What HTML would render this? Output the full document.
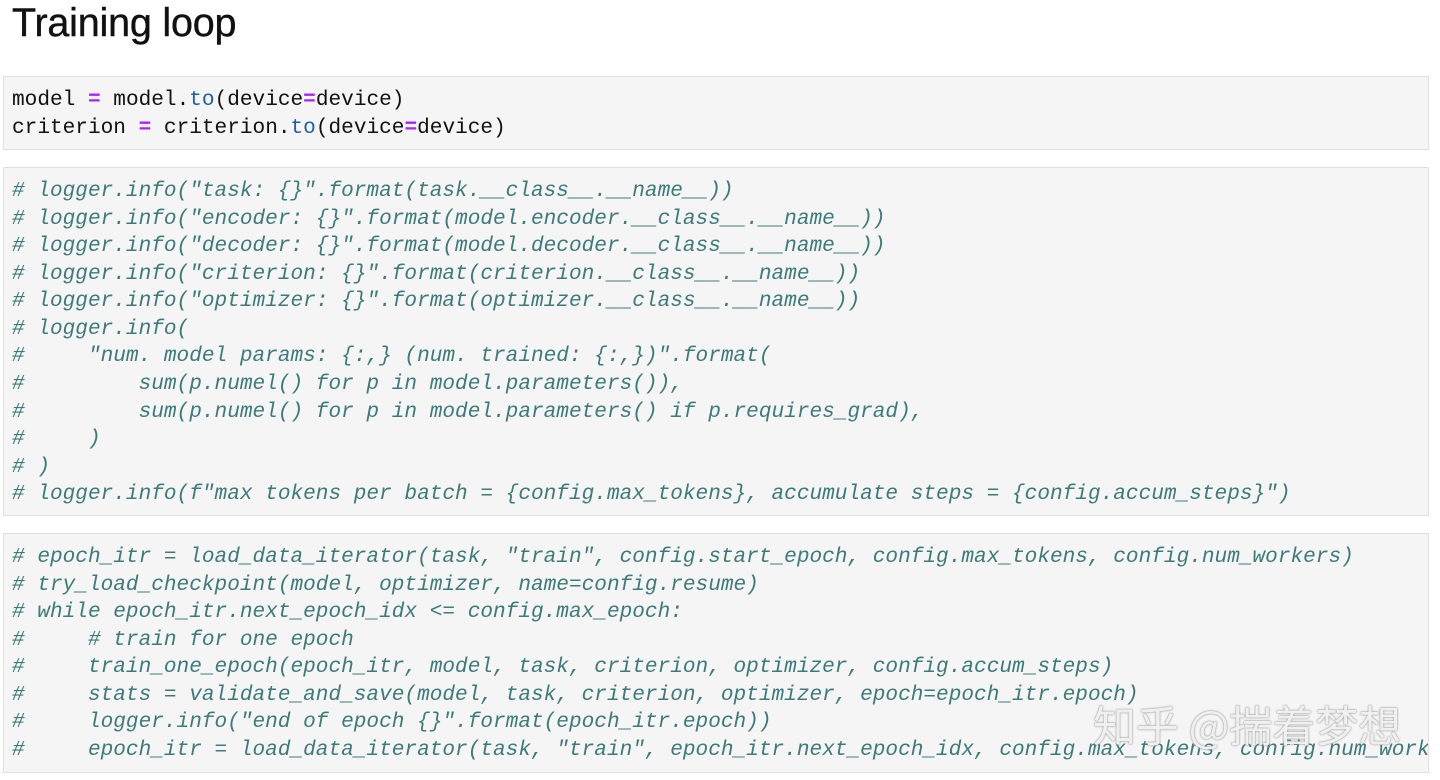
<!DOCTYPE html>
<html><head><meta charset="utf-8"><style>
body{margin:0;width:1440px;height:780px;background:#fff;overflow:hidden;position:relative;font-family:"Liberation Sans",sans-serif}
h1{position:absolute;left:12px;top:1px;margin:0;font-size:39.5px;font-weight:normal;color:#111;letter-spacing:-0.2px;-webkit-text-stroke:0.4px #111}
.b{position:absolute;left:3px;width:1426px;background:#f5f5f5;border:1px solid #e0e0e0;box-sizing:border-box;overflow:hidden}
pre{margin:0;position:absolute;left:8px;font-family:"Liberation Mono",monospace;font-size:21.1px;line-height:27.57px;color:#111;white-space:pre}
.c{color:#3d7a7a;font-style:italic}
.k{color:#aa22ff;font-weight:bold}
.f{color:#1f5fa8}
.wm{position:absolute;left:1093px;top:693px;font-family:"Noto Sans CJK SC",sans-serif;font-size:43px;color:rgba(255,255,255,0.85);text-shadow:0 0 2px #999,0 0 1px #888}
</style></head><body>
<h1>Training loop</h1>
<div class="b" style="top:76px;height:74px"><pre style="top:10px">model <span class="k">=</span> model.<span class="f">to</span>(device<span class="k">=</span>device)
criterion <span class="k">=</span> criterion.<span class="f">to</span>(device<span class="k">=</span>device)</pre></div>
<div class="b" style="top:167px;height:349px"><pre class="c" style="top:10px"># logger.info("task: {}".format(task.__class__.__name__))
# logger.info("encoder: {}".format(model.encoder.__class__.__name__))
# logger.info("decoder: {}".format(model.decoder.__class__.__name__))
# logger.info("criterion: {}".format(criterion.__class__.__name__))
# logger.info("optimizer: {}".format(optimizer.__class__.__name__))
# logger.info(
#     "num. model params: {:,} (num. trained: {:,})".format(
#         sum(p.numel() for p in model.parameters()),
#         sum(p.numel() for p in model.parameters() if p.requires_grad),
#     )
# )
# logger.info(f"max tokens per batch = {config.max_tokens}, accumulate steps = {config.accum_steps}")</pre></div>
<div class="b" style="top:533px;height:240px"><pre class="c" style="top:10px"># epoch_itr = load_data_iterator(task, "train", config.start_epoch, config.max_tokens, config.num_workers)
# try_load_checkpoint(model, optimizer, name=config.resume)
# while epoch_itr.next_epoch_idx &lt;= config.max_epoch:
#     # train for one epoch
#     train_one_epoch(epoch_itr, model, task, criterion, optimizer, config.accum_steps)
#     stats = validate_and_save(model, task, criterion, optimizer, epoch=epoch_itr.epoch)
#     logger.info("end of epoch {}".format(epoch_itr.epoch))
#     epoch_itr = load_data_iterator(task, "train", epoch_itr.next_epoch_idx, config.max_tokens, config.num_workers)</pre></div>
<div class="wm">知乎 @揣着梦想</div>
</body></html>
